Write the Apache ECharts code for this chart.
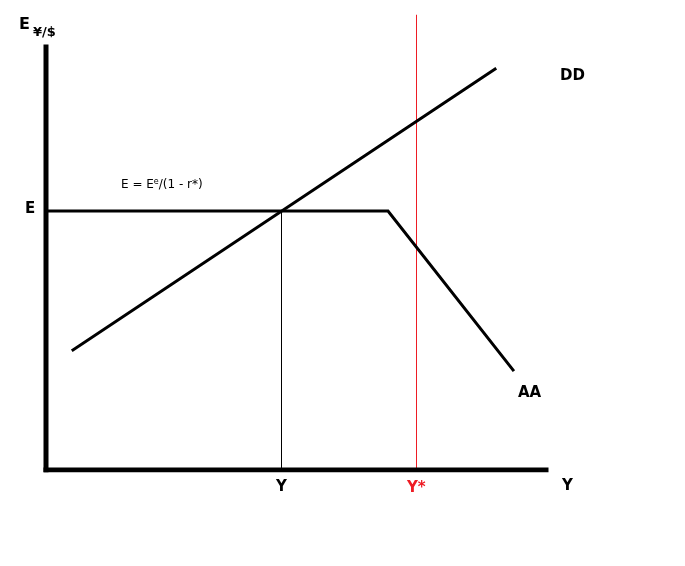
<!DOCTYPE html>
<html><head><meta charset="utf-8">
<script src="https://cdn.jsdelivr.net/npm/echarts@6/dist/echarts.min.js"></script>
<style>html,body{margin:0;padding:0;background:#fff}#c{width:685px;height:566px}</style>
</head><body><div id="c"></div>
<script>
// Data (x: output Y, y: exchange rate E), in chart units
const verticalAxisLine = [[0, 0], [0, 423]];
const horizontalAxisLine = [[0, 0], [500, 0]];
const ddCurve = [[27, 120], [449, 401]];
const aaCurve = [[0, 259], [342, 259], [467, 100]];
const equilibriumDrop = [[235.5, 0], [235.5, 259]];
const fullEmploymentLine = [[370.5, 0], [370.5, 455]];

const chart = echarts.init(document.getElementById('c'));
const F = 'DejaVu Sans, Verdana, sans-serif';
function line(data, color, width) {
  return { type: 'line', data: data, symbol: 'none', silent: true, animation: false,
    lineStyle: { color: color, width: width, cap: 'square', join: 'miter' } };
}
chart.setOption({
  animation: false,
  grid: { left: 46, top: 15, width: 500, height: 455 },
  xAxis: { type: 'value', min: 0, max: 500, show: false },
  yAxis: { type: 'value', min: 0, max: 455, show: false },
  series: [
    line(fullEmploymentLine, '#ee1c24', 1),
    line(equilibriumDrop, '#000', 1),
    line(verticalAxisLine, '#000', 5),
    line(horizontalAxisLine, '#000', 5),
    line(ddCurve, '#000', 3),
    line(aaCurve, '#000', 3)
  ],
  graphic: [
    { type: 'text', left: 19, top: 17, style: { text: 'E', font: 'bold 16px ' + F, fill: '#000' } },
    { type: 'text', left: 33, top: 26, style: { text: '¥/$', font: 'bold 13px ' + F, fill: '#000' } },
    { type: 'text', left: 25, top: 202, style: { text: 'E', font: 'bold 15px ' + F, fill: '#000' } },
    { type: 'text', left: 121, top: 178, style: {
        text: 'E = E{s|e}/(1 - r*)', font: '12px ' + F, fill: '#000',
        rich: { s: { fontSize: 8, verticalAlign: 'top', padding: [0, 0, 6, 0], fill: '#000', fontFamily: F } } } },
    { type: 'text', left: 560, top: 69, style: { text: 'DD', font: 'bold 15px ' + F, fill: '#000' } },
    { type: 'text', left: 518, top: 386, style: { text: 'AA', font: 'bold 15px ' + F, fill: '#000' } },
    { type: 'text', left: 276, top: 480, style: { text: 'Y', font: 'bold 15px ' + F, fill: '#000' } },
    { type: 'text', left: 407, top: 481, style: { text: 'Y*', font: 'bold 15px ' + F, fill: '#ee1c24' } },
    { type: 'text', left: 562, top: 479, style: { text: 'Y', font: 'bold 15px ' + F, fill: '#000' } }
  ]
});
</script></body></html>
